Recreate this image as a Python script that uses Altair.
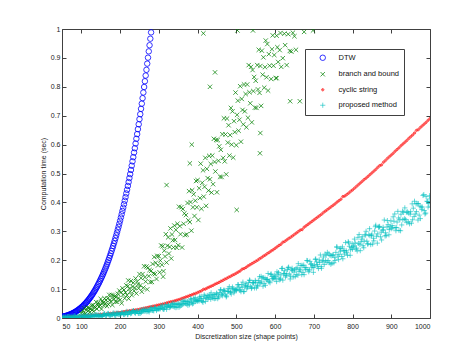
import altair as alt
import pandas as pd

# ---------------- data ----------------
series_names = ["DTW", "branch and bound", "cyclic string", "proposed method"]
series_colors = ["#0000FF", "#008000", "#FF0000", "#00BFBF"]
series_widths = [0.8, 0.6, 1.1, 0.8]

x_ticks = [50, 100, 200, 300, 400, 500, 600, 700, 800, 900, 1000]
y_ticks = [0, 0.1, 0.2, 0.3, 0.4, 0.5, 0.6, 0.7, 0.8, 0.9, 1]

# DTW (x = 50, 52, ..., 280)
dtw_x = list(range(50, 281, 2))
dtw_y = [
    0.0040, 0.0045, 0.0051, 0.0057, 0.0064, 0.0071, 0.0079, 0.0088, 0.0097, 0.0107,
    0.0117, 0.0128, 0.0140, 0.0152, 0.0166, 0.0179, 0.0194, 0.0210, 0.0226, 0.0243,
    0.0262, 0.0280, 0.0301, 0.0321, 0.0344, 0.0366, 0.0390, 0.0415, 0.0442, 0.0469,
    0.0497, 0.0527, 0.0558, 0.0588, 0.0622, 0.0657, 0.0692, 0.0729, 0.0768, 0.0807,
    0.0848, 0.0892, 0.0934, 0.0981, 0.1027, 0.1076, 0.1125, 0.1178, 0.1230, 0.1286,
    0.1342, 0.1399, 0.1458, 0.1519, 0.1584, 0.1648, 0.1715, 0.1783, 0.1853, 0.1928,
    0.2001, 0.2077, 0.2156, 0.2238, 0.2321, 0.2406, 0.2492, 0.2581, 0.2671, 0.2764,
    0.2860, 0.2957, 0.3057, 0.3155, 0.3260, 0.3367, 0.3477, 0.3590, 0.3704, 0.3817,
    0.3935, 0.4058, 0.4183, 0.4310, 0.4436, 0.4569, 0.4703, 0.4843, 0.4979, 0.5123,
    0.5269, 0.5420, 0.5566, 0.5724, 0.5875, 0.6038, 0.6202, 0.6363, 0.6535, 0.6703,
    0.6881, 0.7053, 0.7237, 0.7417, 0.7607, 0.7803, 0.7993, 0.8193, 0.8389, 0.8588,
    0.8801, 0.9008, 0.9226, 0.9438, 0.9664, 0.9883,
]

# branch and bound scatter (x = 100, 102, ..., 660); values above 1 fall off the axes
bb_x = list(range(100, 661, 2))
bb_y = [
    0.017, 0.004, 0.025, 0.015, 0.034, 0.015, 0.028, 0.009, 0.036, 0.025,
    0.034, 0.020, 0.031, 0.044, 0.028, 0.044, 0.023, 0.040, 0.036, 0.055,
    0.031, 0.045, 0.053, 0.039, 0.045, 0.066, 0.031, 0.058, 0.052, 0.043,
    0.068, 0.051, 0.062, 0.041, 0.068, 0.047, 0.080, 0.063, 0.057, 0.080,
    0.045, 0.078, 0.065, 0.075, 0.056, 0.073, 0.056, 0.084, 0.069, 0.095,
    0.063, 0.088, 0.051, 0.103, 0.081, 0.097, 0.068, 0.088, 0.113, 0.079,
    0.110, 0.067, 0.101, 0.091, 0.128, 0.079, 0.108, 0.122, 0.094, 0.105,
    0.137, 0.085, 0.126, 0.116, 0.103, 0.152, 0.113, 0.138, 0.091, 0.152,
    0.105, 0.179, 0.141, 0.126, 0.178, 0.099, 0.174, 0.145, 0.166, 0.124,
    0.163, 0.125, 0.187, 0.154, 0.211, 0.152, 0.191, 0.135, 0.215, 0.182,
    0.214, 0.158, 0.199, 0.251, 0.184, 0.248, 0.162, 0.233, 0.213, 0.290,
    0.192, 0.250, 0.279, 0.223, 0.246, 0.310, 0.206, 0.289, 0.269, 0.244,
    0.320, 0.270, 0.305, 0.243, 0.326, 0.252, 0.385, 0.318, 0.290, 0.383,
    0.244, 0.377, 0.326, 0.362, 0.287, 0.356, 0.289, 0.398, 0.338, 0.439,
    0.332, 0.401, 0.302, 0.442, 0.383, 0.428, 0.353, 0.406, 0.474, 0.383,
    0.477, 0.339, 0.449, 0.415, 0.534, 0.378, 0.468, 0.511, 0.420, 0.454,
    0.554, 0.388, 0.516, 0.484, 0.441, 0.561, 0.480, 0.533, 0.434, 0.562,
    0.463, 0.620, 0.540, 0.507, 0.616, 0.435, 0.616, 0.544, 0.594, 0.489,
    0.582, 0.488, 0.636, 0.554, 0.691, 0.542, 0.635, 0.497, 0.690, 0.607,
    0.667, 0.562, 0.633, 0.727, 0.600, 0.715, 0.555, 0.681, 0.643, 0.780,
    0.598, 0.703, 0.752, 0.648, 0.686, 0.802, 0.610, 0.758, 0.720, 0.670,
    0.808, 0.715, 0.775, 0.660, 0.808, 0.693, 0.875, 0.781, 0.743, 0.869,
    0.677, 0.858, 0.785, 0.834, 0.728, 0.821, 0.727, 0.875, 0.791, 0.928,
    0.779, 0.872, 0.734, 0.925, 0.842, 0.902, 0.797, 0.868, 0.960, 0.833,
    0.948, 0.787, 0.913, 0.873, 1.010, 0.827, 0.930, 0.978, 0.873, 0.910,
    1.024, 0.830, 0.977, 0.937, 0.886, 1.022, 0.927, 0.986, 0.869, 1.016,
    0.899, 1.079, 0.984, 0.944, 1.069, 0.875, 1.055, 0.982, 1.030, 0.924,
    1.016, 0.922, 1.070, 0.987, 1.124, 0.975, 1.067, 0.928, 1.119, 1.035,
    1.094,
]
# isolated branch-and-bound points away from the main cloud (x, y)
bb_extra = [
    (221, 0.130), (311, 0.143), (320, 0.460), (380, 0.535), (385, 0.600), (415, 0.985),
    (432, 0.800), (445, 0.850), (501, 0.374), (503, 0.995), (543, 0.995), (561, 0.570),
    (562, 0.640), (604, 0.830), (639, 0.750), (664, 0.750), (675, 0.990), (698, 0.995),
]

# cyclic string (x = 50, 55, ..., 1000)
cyc_x = list(range(50, 1001, 5))
cyc_y = [
    0.002, 0.002, 0.003, 0.003, 0.004, 0.004, 0.004, 0.005, 0.005, 0.006,
    0.006, 0.007, 0.007, 0.008, 0.009, 0.009, 0.010, 0.010, 0.011, 0.012,
    0.012, 0.013, 0.013, 0.014, 0.015, 0.016, 0.016, 0.017, 0.018, 0.019,
    0.019, 0.020, 0.022, 0.023, 0.024, 0.025, 0.026, 0.027, 0.028, 0.029,
    0.030, 0.032, 0.033, 0.035, 0.036, 0.038, 0.039, 0.041, 0.042, 0.044,
    0.045, 0.047, 0.048, 0.050, 0.052, 0.054, 0.056, 0.057, 0.059, 0.061,
    0.063, 0.065, 0.068, 0.070, 0.073, 0.075, 0.078, 0.080, 0.083, 0.085,
    0.088, 0.091, 0.094, 0.099, 0.100, 0.104, 0.107, 0.110, 0.113, 0.117,
    0.120, 0.123, 0.127, 0.130, 0.134, 0.137, 0.141, 0.144, 0.148, 0.151,
    0.155, 0.159, 0.163, 0.169, 0.171, 0.175, 0.180, 0.184, 0.188, 0.192,
    0.196, 0.200, 0.205, 0.209, 0.214, 0.218, 0.223, 0.227, 0.232, 0.236,
    0.241, 0.246, 0.251, 0.255, 0.262, 0.265, 0.270, 0.275, 0.279, 0.284,
    0.289, 0.294, 0.299, 0.304, 0.306, 0.314, 0.319, 0.324, 0.329, 0.334,
    0.339, 0.344, 0.349, 0.354, 0.359, 0.365, 0.370, 0.375, 0.380, 0.385,
    0.390, 0.395, 0.401, 0.406, 0.411, 0.420, 0.422, 0.427, 0.432, 0.438,
    0.443, 0.449, 0.455, 0.461, 0.467, 0.473, 0.479, 0.484, 0.490, 0.496,
    0.502, 0.508, 0.514, 0.521, 0.527, 0.530, 0.539, 0.545, 0.552, 0.558,
    0.564, 0.570, 0.577, 0.583, 0.589, 0.596, 0.602, 0.608, 0.614, 0.621,
    0.627, 0.633, 0.640, 0.649, 0.652, 0.659, 0.665, 0.671, 0.677, 0.684, 0.690,
]

# proposed method band (three passes of readings)
prop_x_a = list(range(50, 1001, 5))
prop_y_a = [
    0.003, 0.001, 0.005, 0.003, 0.005, 0.001, 0.004, 0.003, 0.006, 0.004,
    0.004, 0.008, 0.004, 0.006, 0.003, 0.009, 0.007, 0.012, 0.006, 0.010,
    0.010, 0.007, 0.015, 0.010, 0.014, 0.007, 0.012, 0.011, 0.017, 0.012,
    0.012, 0.019, 0.014, 0.017, 0.012, 0.021, 0.018, 0.025, 0.017, 0.022,
    0.023, 0.019, 0.030, 0.024, 0.030, 0.021, 0.028, 0.027, 0.036, 0.030,
    0.030, 0.040, 0.032, 0.037, 0.030, 0.045, 0.040, 0.050, 0.038, 0.047,
    0.048, 0.041, 0.059, 0.050, 0.059, 0.044, 0.056, 0.053, 0.067, 0.057,
    0.058, 0.073, 0.061, 0.067, 0.057, 0.078, 0.072, 0.087, 0.068, 0.081,
    0.083, 0.072, 0.098, 0.084, 0.096, 0.076, 0.092, 0.088, 0.107, 0.093,
    0.095, 0.115, 0.097, 0.106, 0.092, 0.119, 0.110, 0.130, 0.105, 0.122,
    0.124, 0.110, 0.143, 0.125, 0.139, 0.113, 0.134, 0.128, 0.152, 0.135,
    0.136, 0.160, 0.138, 0.149, 0.131, 0.164, 0.153, 0.176, 0.145, 0.164,
    0.167, 0.150, 0.188, 0.166, 0.182, 0.150, 0.175, 0.167, 0.196, 0.174,
    0.175, 0.204, 0.179, 0.192, 0.172, 0.211, 0.198, 0.227, 0.191, 0.215,
    0.219, 0.199, 0.245, 0.220, 0.241, 0.205, 0.233, 0.226, 0.260, 0.236,
    0.238, 0.273, 0.242, 0.258, 0.233, 0.281, 0.266, 0.300, 0.257, 0.285,
    0.290, 0.267, 0.321, 0.291, 0.315, 0.270, 0.305, 0.295, 0.337, 0.306,
    0.309, 0.350, 0.313, 0.332, 0.303, 0.359, 0.340, 0.381, 0.330, 0.363,
    0.368, 0.340, 0.404, 0.368, 0.396, 0.344, 0.384, 0.372, 0.420, 0.384, 0.412,
]
prop_x_b = list(range(52, 1003, 5))
prop_y_b = [
    0.001, 0.003, 0.001, 0.005, 0.002, 0.003, 0.007, 0.002, 0.005, 0.005,
    0.005, 0.006, 0.003, 0.010, 0.007, 0.005, 0.009, 0.007, 0.010, 0.006,
    0.005, 0.012, 0.009, 0.014, 0.009, 0.012, 0.017, 0.009, 0.015, 0.014,
    0.014, 0.017, 0.012, 0.023, 0.018, 0.015, 0.023, 0.019, 0.023, 0.016,
    0.016, 0.026, 0.023, 0.029, 0.023, 0.028, 0.035, 0.025, 0.033, 0.032,
    0.033, 0.037, 0.030, 0.046, 0.039, 0.036, 0.046, 0.040, 0.047, 0.038,
    0.037, 0.052, 0.047, 0.058, 0.048, 0.055, 0.067, 0.049, 0.062, 0.060,
    0.062, 0.068, 0.057, 0.080, 0.070, 0.065, 0.081, 0.072, 0.081, 0.068,
    0.067, 0.088, 0.081, 0.096, 0.080, 0.092, 0.108, 0.083, 0.101, 0.098,
    0.100, 0.107, 0.091, 0.124, 0.110, 0.101, 0.123, 0.110, 0.123, 0.104,
    0.104, 0.130, 0.121, 0.139, 0.119, 0.133, 0.154, 0.122, 0.144, 0.141,
    0.143, 0.152, 0.132, 0.171, 0.153, 0.142, 0.168, 0.152, 0.167, 0.142,
    0.143, 0.174, 0.161, 0.182, 0.158, 0.174, 0.199, 0.160, 0.186, 0.181,
    0.183, 0.194, 0.171, 0.218, 0.198, 0.185, 0.217, 0.199, 0.217, 0.189,
    0.191, 0.227, 0.214, 0.240, 0.213, 0.233, 0.261, 0.217, 0.248, 0.244,
    0.247, 0.260, 0.232, 0.289, 0.264, 0.250, 0.288, 0.266, 0.288, 0.254,
    0.256, 0.301, 0.283, 0.314, 0.281, 0.304, 0.339, 0.285, 0.323, 0.316,
    0.320, 0.335, 0.302, 0.369, 0.340, 0.322, 0.366, 0.341, 0.367, 0.326,
    0.328, 0.380, 0.360, 0.396, 0.356, 0.384, 0.424, 0.360, 0.404, 0.396, 0.384,
]
prop_x_c = list(range(54, 1001, 5))
prop_y_c = [
    0.004, 0.001, 0.005, 0.001, 0.004, 0.002, 0.007, 0.002, 0.006, 0.007,
    0.003, 0.006, 0.010, 0.002, 0.009, 0.007, 0.006, 0.011, 0.007, 0.010,
    0.006, 0.013, 0.008, 0.016, 0.012, 0.011, 0.017, 0.008, 0.017, 0.014,
    0.017, 0.012, 0.017, 0.012, 0.021, 0.017, 0.025, 0.018, 0.023, 0.016,
    0.028, 0.023, 0.028, 0.022, 0.027, 0.034, 0.026, 0.035, 0.026, 0.034,
    0.032, 0.044, 0.031, 0.040, 0.044, 0.037, 0.041, 0.051, 0.036, 0.050,
    0.047, 0.044, 0.058, 0.050, 0.057, 0.046, 0.063, 0.051, 0.071, 0.062,
    0.059, 0.075, 0.054, 0.076, 0.069, 0.076, 0.065, 0.077, 0.067, 0.086,
    0.076, 0.097, 0.077, 0.092, 0.073, 0.102, 0.091, 0.101, 0.087, 0.099,
    0.115, 0.096, 0.116, 0.091, 0.113, 0.107, 0.131, 0.102, 0.121, 0.130,
    0.113, 0.122, 0.144, 0.110, 0.138, 0.133, 0.125, 0.151, 0.136, 0.148,
    0.126, 0.157, 0.135, 0.172, 0.154, 0.147, 0.174, 0.135, 0.172, 0.159,
    0.170, 0.148, 0.169, 0.150, 0.183, 0.167, 0.198, 0.166, 0.187, 0.158,
    0.203, 0.185, 0.201, 0.178, 0.197, 0.221, 0.193, 0.222, 0.186, 0.217,
    0.209, 0.246, 0.202, 0.231, 0.246, 0.221, 0.232, 0.264, 0.217, 0.257,
    0.250, 0.238, 0.279, 0.254, 0.273, 0.243, 0.287, 0.256, 0.309, 0.285,
    0.276, 0.316, 0.259, 0.317, 0.297, 0.314, 0.284, 0.315, 0.288, 0.336,
    0.312, 0.360, 0.313, 0.346, 0.302, 0.369, 0.343, 0.366, 0.333, 0.359,
    0.395, 0.351, 0.395, 0.339, 0.387, 0.375, 0.427, 0.363, 0.403, 0.423,
]

# ---------------- marker shapes (unit-box SVG paths) ----------------
X_PATH = "M-0.8,-0.8L0.8,0.8M-0.8,0.8L0.8,-0.8"
DOT_PATH = ("M-0.45,0A0.45,0.45,0,1,0,0.45,0A0.45,0.45,0,1,0,-0.45,0Z"
            "M-0.15,0A0.15,0.15,0,1,0,0.15,0A0.15,0.15,0,1,0,-0.15,0Z")
PLUS_PATH = "M-0.95,0L0.95,0M0,-0.95L0,0.95"
series_shapes = ["circle", X_PATH, DOT_PATH, PLUS_PATH]

# ---------------- table ----------------
rows = []
rows += [{"x": x, "y": y, "series": "DTW"} for x, y in zip(dtw_x, dtw_y)]
rows += [{"x": x, "y": y, "series": "branch and bound"} for x, y in zip(bb_x, bb_y)]
rows += [{"x": x, "y": y, "series": "branch and bound"} for x, y in bb_extra]
rows += [{"x": x, "y": y, "series": "cyclic string"} for x, y in zip(cyc_x, cyc_y)]
rows += [{"x": x, "y": y, "series": "proposed method"} for x, y in zip(prop_x_a, prop_y_a)]
rows += [{"x": x, "y": y, "series": "proposed method"} for x, y in zip(prop_x_b, prop_y_b)]
rows += [{"x": x, "y": y, "series": "proposed method"} for x, y in zip(prop_x_c, prop_y_c)]
df = pd.DataFrame(rows)

FONT = "Liberation Sans"
x_scale = alt.Scale(domain=[50, 1000], nice=False, zero=False)
y_scale = alt.Scale(domain=[0, 1], nice=False, zero=False)

legend = alt.Legend(
    orient="none", legendX=243, legendY=20, title=None,
    strokeColor="#404040", fillColor="white", padding=5, rowPadding=6.5,
    symbolOffset=9, labelOffset=12, symbolSize=30, symbolStrokeWidth=0.8,
    labelFont=FONT, labelFontSize=7.5, labelColor="#111111",
    labelExpr="datum.label + '\u00a0\u00a0\u00a0\u00a0'",
)

points = alt.Chart(df).mark_point(filled=False, size=30, clip=True, opacity=1).encode(
    x=alt.X("x:Q", scale=x_scale, axis=alt.Axis(
        values=x_ticks, orient="bottom", offset=-4, tickSize=4, domain=False, grid=False,
        labelPadding=4, format="d", title="Discretization size (shape points)", titlePadding=3)),
    y=alt.Y("y:Q", scale=y_scale, axis=alt.Axis(
        values=y_ticks, orient="left", offset=-4, tickSize=4, domain=False, grid=False,
        labelPadding=2, format="~g", title="Computation time (sec)", titlePadding=4)),
    color=alt.Color("series:N", scale=alt.Scale(domain=series_names, range=series_colors), legend=legend),
    shape=alt.Shape("series:N", scale=alt.Scale(domain=series_names, range=series_shapes), legend=legend),
    strokeWidth=alt.StrokeWidth("series:N", scale=alt.Scale(domain=series_names, range=series_widths), legend=None),
)

tick_df = pd.DataFrame({"x": [x_ticks[0]], "y": [y_ticks[0]]})
frame_ticks = alt.Chart(tick_df).mark_point(opacity=0).encode(
    x=alt.X("x:Q", scale=x_scale, axis=alt.Axis(
        values=x_ticks, orient="top", offset=-4, tickSize=4, labels=False, domain=False,
        grid=False, title=None)),
    y=alt.Y("y:Q", scale=y_scale, axis=alt.Axis(
        values=y_ticks, orient="right", offset=-4, tickSize=4, labels=False, domain=False,
        grid=False, title=None)),
)

chart = (
    alt.layer(points, frame_ticks)
    .resolve_axis(x="independent", y="independent")
    .properties(
        width=368, height=289,
        padding={"left": 62, "top": 29, "right": 44, "bottom": 37},
        autosize=alt.AutoSizeParams(type="none"),
        background="white",
    )
    .configure_view(stroke="#404040", strokeWidth=1)
    .configure_axis(
        labelFont=FONT, titleFont=FONT, labelFontSize=7, titleFontSize=7,
        labelColor="#222222", titleColor="#222222", titleFontWeight="normal",
        tickColor="#404040", tickWidth=1,
    )
)

chart.save("out.html", embed_options={"renderer": "svg", "actions": False})
